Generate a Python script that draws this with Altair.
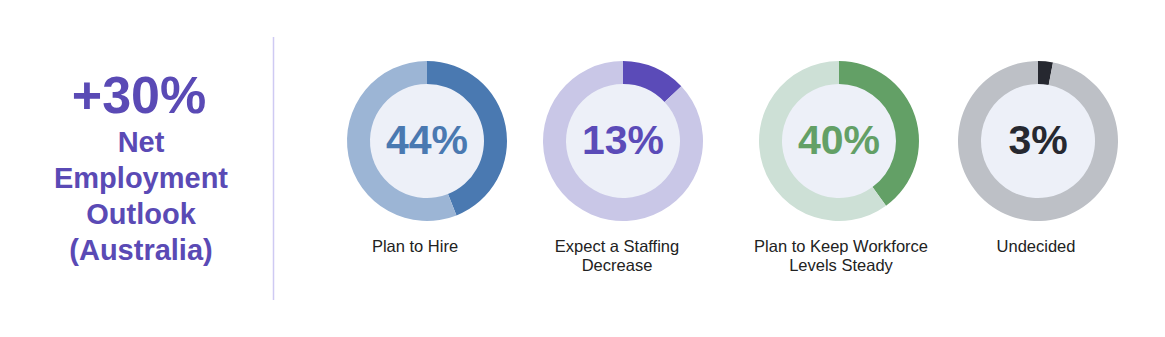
import math
import altair as alt
import pandas as pd

# ---- data ----
categories = ["Plan to Hire", "Expect a Staffing Decrease",
              "Plan to Keep Workforce Levels Steady", "Undecided"]
label_lines = ["Plan to Hire", "Expect a Staffing\nDecrease",
               "Plan to Keep Workforce\nLevels Steady", "Undecided"]
percent = [44, 13, 40, 3]
headline = "+30%"
headline_sub = ["Net", "Employment", "Outlook", "(Australia)"]

# ---- palette / styling ----
dark_colors = ["#4a79b1", "#5b4bb8", "#63a066", "#262830"]
light_colors = ["#9cb5d5", "#c9c7e7", "#cde0d6", "#bdc0c6"]
label_dx = [-12, -6, 2, -2]
inner_fill = "#edf0f8"
accent = "#5a4ab5"
FONT = "Liberation Sans"

# ---- tables built from the lists ----
arc_rows, keys, key_colors = [], [], []
for i, (c, v) in enumerate(zip(categories, percent)):
    arc_rows.append({"idx": i, "key": f"{c}|share", "start": 0, "end": v})
    arc_rows.append({"idx": i, "key": f"{c}|rest", "start": v, "end": 100})
    keys += [f"{c}|share", f"{c}|rest"]
    key_colors += [dark_colors[i], light_colors[i]]
arcs_df = pd.DataFrame(arc_rows)

center_df = pd.DataFrame({
    "idx": list(range(len(categories))),
    "key": [f"{c}|share" for c in categories],
    "pct": [f"{v}%" for v in percent],
    "label": label_lines,
})

x_enc = alt.X("idx:Q", axis=None, stack=None,
              scale=alt.Scale(domain=[0, 1, 2, 3], range=[427, 623, 839, 1038]))
color_enc = alt.Color("key:N", legend=None,
                      scale=alt.Scale(domain=keys, range=key_colors))
CY = 141

inner = alt.Chart(center_df).mark_arc(
    radius=58, theta=0, theta2=2 * math.pi, color=inner_fill
).encode(x=x_enc, y=alt.value(CY))

ring = alt.Chart(arcs_df).mark_arc(radius=80, innerRadius=57).encode(
    x=x_enc, y=alt.value(CY),
    theta=alt.Theta("start:Q", scale=alt.Scale(domain=[0, 100], range=[0, 2 * math.pi]), stack=None),
    theta2="end:Q",
    color=color_enc,
)

center_text = alt.Chart(center_df).mark_text(
    font=FONT, fontSize=41, fontWeight="bold", baseline="middle", align="center"
).encode(x=x_enc, y=alt.value(CY + 1), text="pct:N", color=color_enc)

label_layers = []
for i in range(len(categories)):
    label_layers.append(
        alt.Chart(center_df).transform_filter(alt.datum.idx == i).mark_text(
            font=FONT, fontSize=16.5, baseline="top", align="center",
            lineBreak="\n", lineHeight=19, color="#222222", dx=label_dx[i]
        ).encode(x=x_enc, y=alt.value(239), text="label:N")
    )

head = alt.Chart(pd.DataFrame({"t": [headline]})).mark_text(
    font=FONT, fontSize=52, fontWeight="bold", baseline="middle", align="center", color=accent
).encode(x=alt.value(139), y=alt.value(97), text="t:N")

sub = alt.Chart(pd.DataFrame({"t": ["\n".join(headline_sub)]})).mark_text(
    font=FONT, fontSize=29, fontWeight="bold", baseline="top", align="center",
    lineBreak="\n", lineHeight=36, color=accent
).encode(x=alt.value(141), y=alt.value(129), text="t:N")

divider = alt.Chart(pd.DataFrame({"d": [0]})).mark_rule(
    color="#cfcaf3", strokeWidth=1.5
).encode(x=alt.value(273.5), y=alt.value(37), y2=alt.value(300))

chart = alt.layer(inner, ring, center_text, *label_layers, head, sub, divider).properties(
    width=1165, height=337, padding=0, background="white",
    autosize=alt.AutoSizeParams(type="none"),
).configure_view(stroke=None, strokeWidth=0)

chart.save("out.html", embed_options={"renderer": "svg", "actions": False})
